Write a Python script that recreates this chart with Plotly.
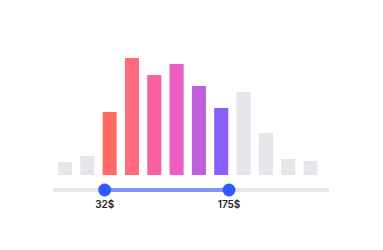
import plotly.graph_objects as go

# Data
bins = list(range(12))
counts = [13, 19, 63, 117, 100, 111, 89, 67, 83, 42, 16, 14]
bar_colors = ["#E5E5EA", "#E5E5EA", "#FF6B63", "#FF6B7D", "#F9609F", "#EC5CC2",
              "#BF5FDD", "#8A5EFA", "#E5E5EA", "#E5E5EA", "#E5E5EA", "#E5E5EA"]
price_low = 32
price_high = 175
price_labels = ["32$", "175$"]

fig = go.Figure()

fig.add_trace(go.Bar(x=bins, y=counts, marker=dict(color=bar_colors, line=dict(width=0)),
                     width=0.63, hoverinfo="skip", showlegend=False))

# selected range line
fig.add_trace(go.Scatter(x=[price_low, price_high], y=[-15, -15], xaxis="x2", yaxis="y",
                         mode="lines", line=dict(color="#7C97FF", width=4),
                         hoverinfo="skip", showlegend=False))
# handles + labels
fig.add_trace(go.Scatter(x=[price_low, price_high], y=[-15, -15], xaxis="x2", yaxis="y",
                         mode="markers", marker=dict(color="#2E5BFF", size=13, line=dict(width=0)),
                         hoverinfo="skip", showlegend=False))
fig.add_trace(go.Scatter(x=[price_low, price_high], y=[-30, -30], xaxis="x2", yaxis="y",
                         mode="text", text=price_labels,
                         textfont=dict(family="Inter", size=10, color="#222222", weight=600),
                         hoverinfo="skip", showlegend=False))

# grey track (layout style, behind data)
fig.add_shape(type="line", xref="paper", yref="y", x0=53/383, x1=329/383, y0=-15, y1=-15,
              line=dict(color="#E6E6EC", width=4), layer="below")

fig.update_layout(
    width=383, height=250,
    margin=dict(l=0, r=0, t=0, b=0),
    paper_bgcolor="white", plot_bgcolor="white",
    bargap=0.37,
    xaxis=dict(range=[-65/22.32, (383-65)/22.32], visible=False, fixedrange=True),
    xaxis2=dict(range=[32 - 104.7/0.8692, 32 + 278.3/0.8692], overlaying="x", visible=False),
    yaxis=dict(range=[-75, 175], visible=False),
)

fig.write_html("out.html")
